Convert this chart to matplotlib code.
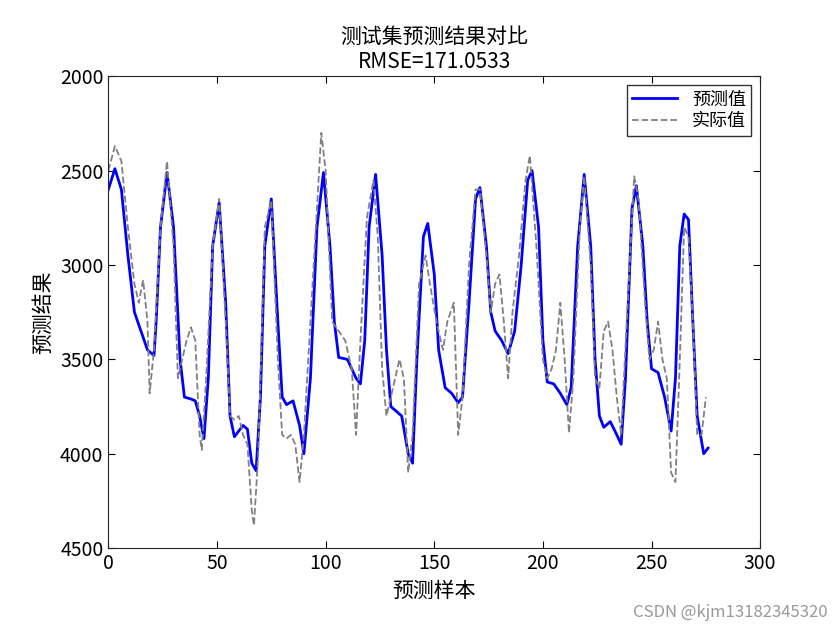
import matplotlib.pyplot as plt
from matplotlib import font_manager

# find an installed CJK font by its registered name
cjk = [f.name for f in font_manager.fontManager.ttflist if 'CJK' in f.name]
plt.rcParams['font.family'] = (['Noto Sans CJK SC'] if 'Noto Sans CJK SC' in cjk else cjk[:1]) + ['DejaVu Sans']
plt.rcParams['axes.unicode_minus'] = False

# predicted series (sample index, value)
pred_x = [0, 3, 6, 9, 12, 15, 18, 21, 22, 24, 27, 30, 33, 35, 38, 40, 42, 44, 46, 48, 51, 54, 56, 58, 60, 62, 64, 66, 68, 70,
          72, 75, 78, 80, 82, 85, 88, 90, 93, 96, 99, 102, 104, 106, 110, 114, 116, 118, 120, 123, 126, 128, 130, 132, 135,
          138, 140, 142, 145, 147, 150, 152, 155, 158, 161, 163, 166, 169, 171, 174, 176, 178, 181, 184, 187, 190, 193, 195,
          198, 200, 202, 205, 208, 211, 213, 216, 219, 222, 224, 226, 228, 231, 234, 236, 238, 241, 243, 246, 248, 250, 253,
          256, 259, 261, 263, 265, 267, 269, 271, 274, 276]
pred_y = [2600, 2490, 2600, 2950, 3250, 3350, 3450, 3480, 3300, 2800, 2510, 2800, 3500, 3700, 3710, 3720, 3800, 3920, 3600, 2900,
          2670, 3200, 3800, 3910, 3880, 3850, 3870, 4050, 4090, 3700, 2900, 2650, 3300, 3700, 3740, 3720, 3850, 4000, 3600, 2800,
          2510, 2900, 3300, 3490, 3500, 3600, 3630, 3400, 2800, 2520, 2950, 3450, 3750, 3770, 3800, 4000, 4050, 3500, 2850, 2780,
          3050, 3450, 3650, 3680, 3730, 3700, 3200, 2650, 2590, 2900, 3250, 3350, 3400, 3470, 3350, 3000, 2550, 2500, 2800, 3400,
          3620, 3630, 3680, 3740, 3650, 2900, 2520, 2900, 3500, 3800, 3860, 3830, 3900, 3950, 3600, 2700, 2580, 2900, 3300, 3550,
          3570, 3700, 3880, 3600, 2900, 2730, 2760, 3300, 3800, 4000, 3970]

# actual series (sample index, value)
true_x = [0, 3, 6, 9, 12, 14, 16, 18, 19, 21, 24, 27, 30, 32, 34, 36, 38, 40, 42, 43, 45, 48, 51, 54, 56, 58, 60, 62, 64, 66,
          67, 69, 72, 75, 78, 80, 82, 84, 86, 88, 90, 93, 96, 98, 100, 103, 106, 109, 112, 114, 116, 119, 122, 124, 126, 128,
          130, 132, 134, 136, 138, 140, 143, 146, 148, 151, 154, 156, 159, 161, 163, 166, 169, 171, 174, 176, 178, 180, 182,
          184, 186, 189, 192, 194, 197, 200, 202, 204, 206, 208, 210, 212, 214, 217, 219, 222, 224, 226, 228, 230, 232, 234,
          236, 239, 242, 244, 247, 249, 251, 253, 255, 257, 259, 261, 263, 265, 267, 269, 271, 273, 275]
true_y = [2500, 2370, 2450, 2800, 3100, 3200, 3080, 3300, 3680, 3450, 2800, 2450, 2900, 3600, 3500, 3400, 3330, 3400, 3900, 3980,
          3600, 2900, 2650, 3300, 3800, 3820, 3800, 3900, 3950, 4300, 4380, 4000, 2800, 2660, 3500, 3900, 3920, 3900, 3950, 4150,
          3900, 3300, 2700, 2300, 2500, 3300, 3350, 3400, 3550, 3900, 3400, 2750, 2550, 2850, 3550, 3800, 3700, 3600, 3500, 3600,
          4100, 3900, 3100, 2950, 3100, 3300, 3450, 3300, 3200, 3900, 3700, 3000, 2600, 2600, 2950, 3250, 3100, 3050, 3300, 3600,
          3250, 2950, 2550, 2420, 2900, 3500, 3600, 3550, 3450, 3200, 3500, 3890, 3600, 2800, 2530, 3000, 3600, 3650, 3350, 3300,
          3450, 3700, 3900, 3200, 2530, 2650, 3200, 3500, 3450, 3300, 3500, 3600, 4100, 4150, 3500, 2800, 2850, 3300, 3900, 3900,
          3700]

fig = plt.figure(figsize=(8.4, 6.3), dpi=100)
ax = fig.add_axes([0.129, 0.130, 0.776, 0.749])

ax.plot(pred_x, pred_y, color='blue', lw=2, label='预测值')
ax.plot(true_x, true_y, color='gray', lw=1.3, ls='--', label='实际值')

ax.set_xlim(0, 300)
ax.set_ylim(4500, 2000)
ax.set_xticks(range(0, 301, 50))
ax.set_yticks(range(2000, 4501, 500))
ax.tick_params(direction='in', top=True, right=True, labelsize=14, length=5)
for s in ax.spines.values():
    s.set_color('#262626')

ax.set_xlabel('预测样本', fontsize=15)
ax.set_ylabel('预测结果', fontsize=15)
ax.set_title('测试集预测结果对比\nRMSE=171.0533', fontsize=15)

leg = ax.legend(loc='upper right', fontsize=13, fancybox=False, edgecolor='black',
                handlelength=2.5, borderpad=0.3, labelspacing=0.2)
leg.get_frame().set_linewidth(1)

fig.text(0.985, 0.02, 'CSDN @kjm13182345320', ha='right', fontsize=12, color='#999999')

plt.savefig('out.png')
